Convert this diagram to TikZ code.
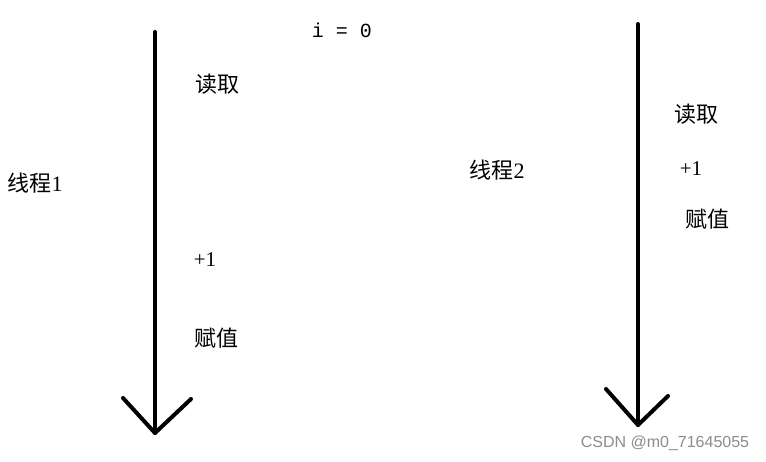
\documentclass[tikz,border=0pt]{standalone}
\usepackage{fontspec}
\setmainfont{Liberation Serif}
\newfontfamily\cjk{Noto Sans CJK SC}
\newfontfamily\monof{Liberation Mono}
\newfontfamily\wmfont{Liberation Sans}
\begin{document}
\begin{tikzpicture}[x=1pt,y=-1pt,
  axis/.style={line width=4pt,line cap=round,line join=round},
  lbl/.style={inner sep=0pt,font=\fontsize{22}{24}\selectfont\cjk},
  num/.style={inner sep=0pt,font=\fontsize{21}{24}\selectfont}]
\useasboundingbox[fill=white] (0,0) rectangle (766,462);
% thread 1 axis
\coordinate (t1s) at (155,32);
\coordinate (t1e) at (155,433);
\coordinate (t1l) at (123,398);
\coordinate (t1r) at (191,399);
\draw[axis] (t1s) -- (t1e);
\draw[axis] (t1l) -- (t1e) -- (t1r);
% thread 2 axis
\coordinate (t2s) at (638,24);
\coordinate (t2e) at (638,425);
\coordinate (t2l) at (606,389);
\coordinate (t2r) at (668,396);
\draw[axis] (t2s) -- (t2e);
\draw[axis] (t2l) -- (t2e) -- (t2r);
% labels
\node[inner sep=0pt,font=\fontsize{20}{22}\selectfont\monof] (i0) at (342,30) {i = 0};
\node[lbl] (th1) at (35,183) {线程\rmfamily 1};
\node[lbl] (th2) at (497,170) {线程\rmfamily 2};
\node[lbl] (r1) at (217,84) {读取};
\node[num] (p1) at (205,260) {+1};
\node[lbl] (a1) at (216,338) {赋值};
\node[lbl] (r2) at (696,114) {读取};
\node[num] (p2) at (691,169) {+1};
\node[lbl] (a2) at (707,219) {赋值};
\node[inner sep=0pt,text=black!45,font=\fontsize{16}{18}\selectfont\wmfont] (wm) at (665,443) {CSDN @m0\_71645055};
\end{tikzpicture}
\end{document}
